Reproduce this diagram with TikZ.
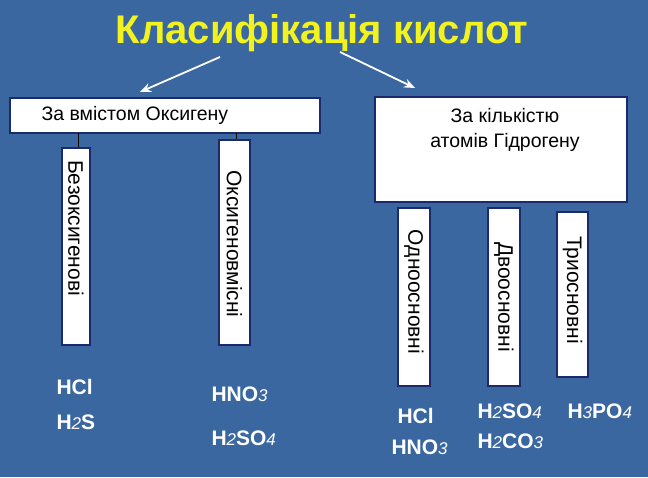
\documentclass[tikz,border=0pt]{standalone}
\usepackage{fontspec}
\setmainfont{Liberation Sans}
\usetikzlibrary{arrows.meta}
\definecolor{bg}{HTML}{3A67A0}
\definecolor{navy}{HTML}{1A2A6A}
\definecolor{ttl}{HTML}{F2F21E}
\tikzset{
 box/.style={draw=navy,line width=1.2pt,fill=white,inner sep=0pt},
 vtext/.style={rotate=-90,font=\fontsize{21}{24}\selectfont,text=black},
 formula/.style={text=white,font=\bfseries\fontsize{21}{24}\selectfont,anchor=west},
 link/.style={draw=black,line width=0.8pt},
 arr/.style={draw=white,line width=1.8pt,-{Stealth[length=11pt,width=9pt]}}
}
\newcommand{\sbs}[1]{{\mdseries\itshape\fontsize{17}{19}\selectfont #1}}
\begin{document}
\begin{tikzpicture}[x=1pt,y=-1pt]
\fill[bg] (0,0) rectangle (648,477);
\useasboundingbox (0,0) rectangle (648,477);
\node[text=ttl,font=\bfseries\fontsize{40}{44}\selectfont] (title) at (322,33) {Класифікація кислот};
% top boxes
\draw[box] (10,98) rectangle (320,133);
\node[font=\fontsize{19.5}{22}\selectfont,anchor=west] (oxy) at (38,115) {За вмістом Оксигену};
\draw[box] (375,97) rectangle (627,202);
\node[font=\fontsize{19.5}{25}\selectfont,align=center] (hyd) at (505,130) {За кількістю\\атомів Гідрогену};
\coordinate (a1s) at (220,57); \coordinate (a1e) at (140,92);
\coordinate (a2s) at (340,52); \coordinate (a2e) at (415,88);
\draw[arr] (a1s) -- (a1e);
\draw[arr] (a2s) -- (a2e);
% left verticals
\coordinate (l1t) at (78,133); \coordinate (l1b) at (78,148);
\coordinate (l2t) at (236,133); \coordinate (l2b) at (236,140);
\draw[link] (l1t) -- (l1b);
\draw[link] (l2t) -- (l2b);
\draw[box] (62,148) rectangle (90,345);
\node[vtext] (bez) at (76,228) {Безоксигенові};
\draw[box] (219,140) rectangle (250,345);
\node[vtext] (oks) at (234.5,244) {Оксигеновмісні};
% right verticals
\draw[box] (398,208) rectangle (430,386);
\node[vtext] (odn) at (414,292) {Одноосновні};
\draw[box] (488,208) rectangle (520,386);
\node[vtext] (dvo) at (504,297) {Двоосновні};
\draw[box] (557,212) rectangle (588,377);
\node[vtext] (tri) at (572.5,290) {Триосновні};
% formulas
\node[formula] (f1) at (53,387) {HCl};
\node[formula] (f2) at (53,422) {H\sbs{2}S};
\node[formula] (f3) at (208,394) {HNO\sbs{3}};
\node[formula] (f4) at (208,438) {H\sbs{2}SO\sbs{4}};
\node[formula] (f5) at (394,416) {HCl};
\node[formula] (f6) at (388,447) {HNO\sbs{3}};
\node[formula] (f7) at (474,411) {H\sbs{2}SO\sbs{4}};
\node[formula] (f8) at (474,441) {H\sbs{2}CO\sbs{3}};
\node[formula] (f9) at (564,411) {H\sbs{3}PO\sbs{4}};
\end{tikzpicture}
\end{document}
